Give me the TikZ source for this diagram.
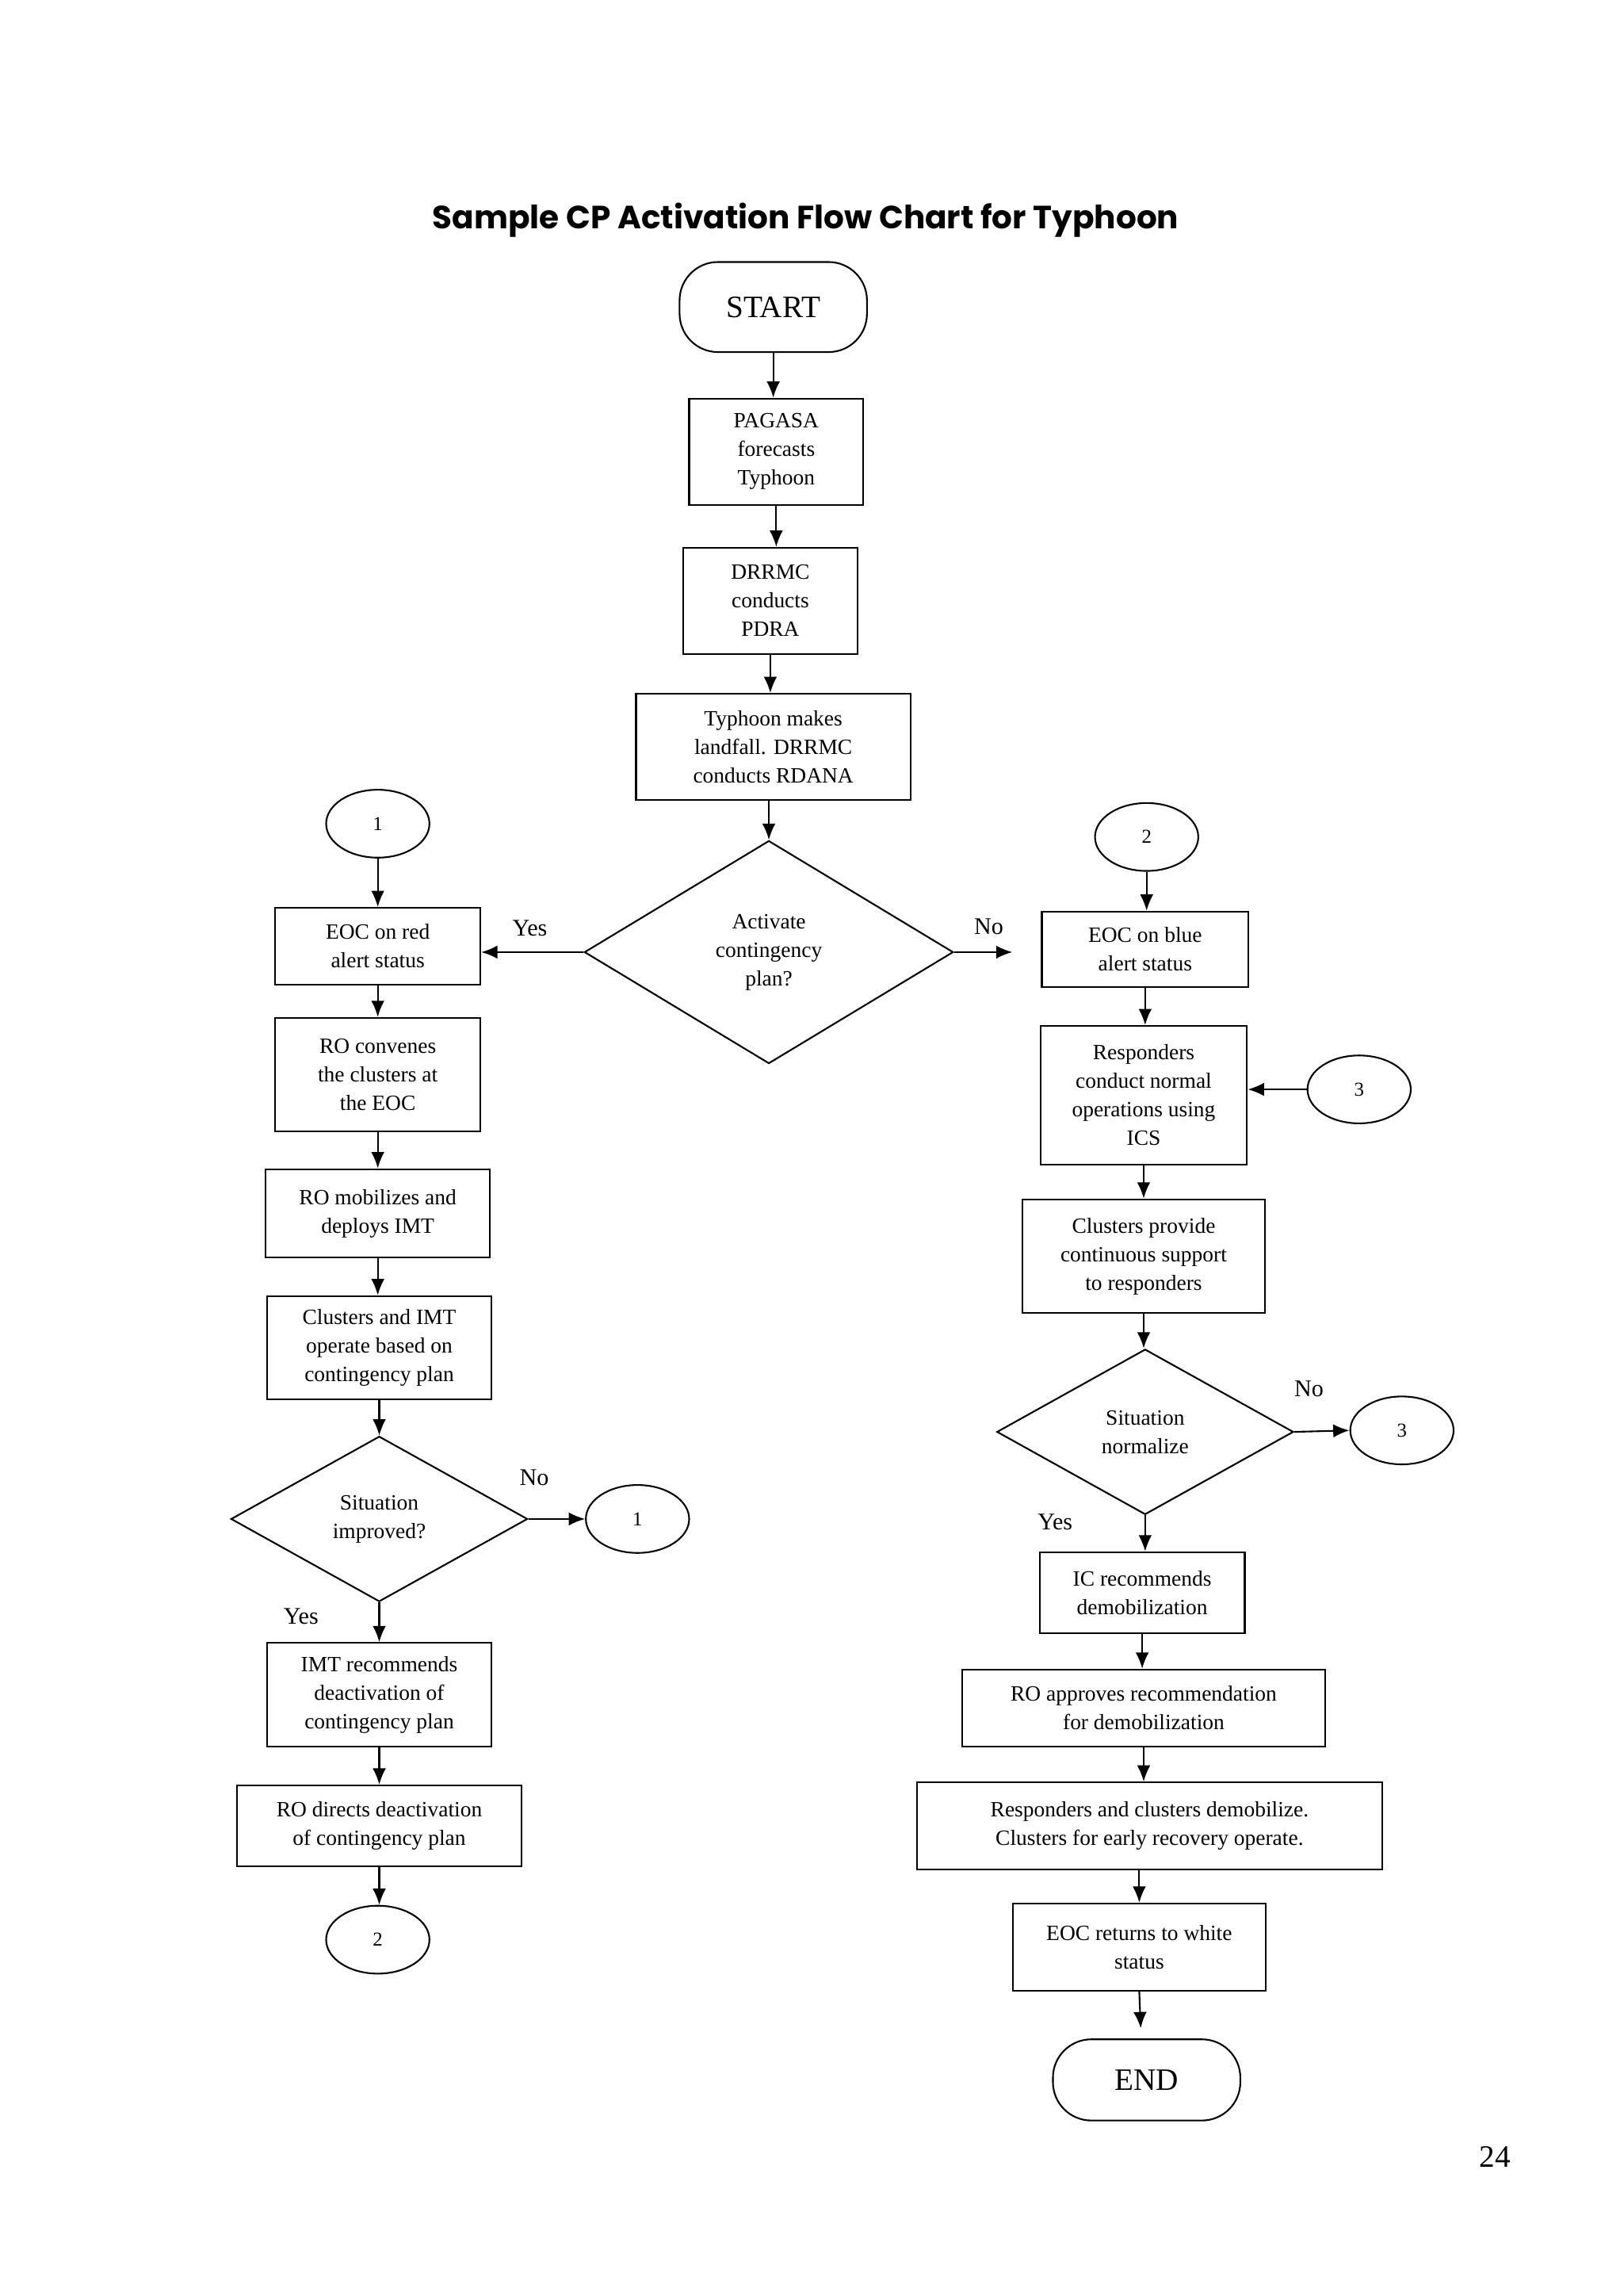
\documentclass[tikz,border=0pt]{standalone}
\usepackage{fontspec}
\setmainfont{Liberation Serif}
\newfontfamily\titlefont{Poppins}
\usetikzlibrary{shapes.geometric,arrows.meta}
\begin{document}
\begin{tikzpicture}[x=0.05cm,y=-0.05cm,
  every node/.style={font=\fontsize{21}{27.5}\selectfont, align=center},
  box/.style={draw, line width=1.6pt, inner sep=2pt},
  term/.style={draw, line width=1.6pt, rounded corners=1.3cm, font=\fontsize{30}{34}\selectfont},
  dia/.style={draw, diamond, line width=1.6pt, inner sep=0pt},
  circ/.style={draw, ellipse, line width=1.6pt, minimum width=3.5cm, minimum height=2.3cm, inner sep=0pt, font=\fontsize{19}{22}\selectfont},
  lbl/.style={font=\fontsize{23}{27}\selectfont},
  arr/.style={line width=1.6pt, -{Latex[length=0.55cm,width=0.45cm]}}]
\useasboundingbox (0,0) rectangle (1100,1555.4);
\node[font=\titlefont\bfseries\fontsize{31}{36}\selectfont] (title) at (546,149) {Sample CP Activation Flow Chart for Typhoon};
\node[term, minimum width=6.35cm, minimum height=3.05cm] (start) at (524,208) {START};
\node[box, minimum width=5.9cm, minimum height=3.6cm] (pag) at (526,306) {PAGASA\\forecasts\\Typhoon};
\node[box, minimum width=5.9cm, minimum height=3.6cm] (drr) at (522,407) {DRRMC\\conducts\\PDRA};
\node[box, minimum width=9.3cm, minimum height=3.6cm] (typ) at (524,506) {Typhoon makes\\landfall. DRRMC\\conducts RDANA};
\node[dia, minimum width=12.5cm, minimum height=7.55cm] (d1) at (521,645) {Activate\\contingency\\plan?};
\node[lbl] (y1) at (359,629) {Yes};
\node[lbl] (n1) at (670,628) {No};
\coordinate (n1end) at (686,645);
% left column
\node[circ] (c1a) at (256,558) {1};
\node[box, minimum width=6.95cm, minimum height=2.6cm] (red) at (256,641) {EOC on red\\alert status};
\node[box, minimum width=6.95cm, minimum height=3.85cm] (conv) at (256,728) {RO convenes\\the clusters at\\the EOC};
\node[box, minimum width=7.6cm, minimum height=3.0cm] (mob) at (256,822) {RO mobilizes and\\deploys IMT};
\node[box, minimum width=7.6cm, minimum height=3.5cm] (clu) at (257,913) {Clusters and IMT\\operate based on\\contingency plan};
\node[dia, minimum width=10.05cm, minimum height=5.6cm] (d2) at (257,1029) {Situation\\improved?};
\node[lbl] (n2) at (362,1001) {No};
\node[lbl] (y2) at (204,1095) {Yes};
\node[circ] (c1b) at (432,1029) {1};
\node[box, minimum width=7.6cm, minimum height=3.5cm] (imt) at (257,1148) {IMT recommends\\deactivation of\\contingency plan};
\node[box, minimum width=9.65cm, minimum height=2.75cm] (dir) at (257,1237) {RO directs deactivation\\of contingency plan};
\node[circ] (c2b) at (256,1314) {2};
% right column
\node[circ] (c2a) at (777,567) {2};
\node[box, minimum width=7.0cm, minimum height=2.55cm] (blue) at (776,643) {EOC on blue\\alert status};
\node[box, minimum width=7.0cm, minimum height=4.7cm] (resp) at (775,742) {Responders\\conduct normal\\operations using\\ICS};
\node[circ] (c3a) at (921,738) {3};
\node[box, minimum width=8.2cm, minimum height=3.85cm] (cps) at (775,851) {Clusters provide\\continuous support\\to responders};
\node[dia, minimum width=10.05cm, minimum height=5.6cm] (d3) at (776,970) {Situation\\normalize};
\node[lbl] (n3) at (887,941) {No};
\node[lbl] (y3) at (715,1031) {Yes};
\node[circ] (c3b) at (950,969) {3};
\node[box, minimum width=6.95cm, minimum height=2.75cm] (ic) at (774,1079) {IC recommends\\demobilization};
\node[box, minimum width=12.3cm, minimum height=2.6cm] (app) at (775,1157) {RO approves recommendation\\for demobilization};
\node[box, minimum width=15.75cm, minimum height=2.95cm] (dem) at (779,1237) {Responders and clusters demobilize.\\Clusters for early recovery operate.};
\node[box, minimum width=8.55cm, minimum height=2.95cm] (whi) at (772,1319) {EOC returns to white\\status};
\node[term, minimum width=6.35cm, minimum height=2.75cm] (end) at (777,1409) {END};
\coordinate (endtop) at (773,1374);
\node[font=\fontsize{30}{34}\selectfont] (pg) at (1013,1461) {24};
% arrows
\draw[arr] (start.south) -- (start.south |- pag.north);
\draw[arr] (pag.south) -- (pag.south |- drr.north);
\draw[arr] (drr.south) -- (drr.south |- typ.north);
\draw[arr] (typ.south -| d1.north) -- (d1.north);
\draw[arr] (d1.west) -- (red.east |- d1.west);
\draw[arr] (d1.east) -- (n1end);
\draw[arr] (c1a.south) -- (c1a.south |- red.north);
\draw[arr] (red.south) -- (red.south |- conv.north);
\draw[arr] (conv.south) -- (conv.south |- mob.north);
\draw[arr] (mob.south) -- (mob.south |- clu.north);
\draw[arr] (clu.south) -- (clu.south |- d2.north);
\draw[arr] (d2.east) -- (c1b.west);
\draw[arr] (d2.south) -- (d2.south |- imt.north);
\draw[arr] (imt.south) -- (imt.south |- dir.north);
\draw[arr] (dir.south) -- (dir.south |- c2b.north);
\draw[arr] (c2a.south) -- (c2a.south |- blue.north);
\draw[arr] (blue.south) -- (blue.south |- resp.north);
\draw[arr] (c3a.west) -- (resp.east |- c3a.west);
\draw[arr] (resp.south) -- (resp.south |- cps.north);
\draw[arr] (cps.south) -- (cps.south |- d3.north);
\draw[arr] (d3.east) -- (c3b.west);
\draw[arr] (d3.south) -- (d3.south |- ic.north);
\draw[arr] (ic.south) -- (ic.south |- app.north);
\draw[arr] (app.south) -- (app.south |- dem.north);
\draw[arr] (dem.south -| whi.north) -- (whi.north);
\draw[arr] (whi.south) -- (endtop);
\end{tikzpicture}
\end{document}
